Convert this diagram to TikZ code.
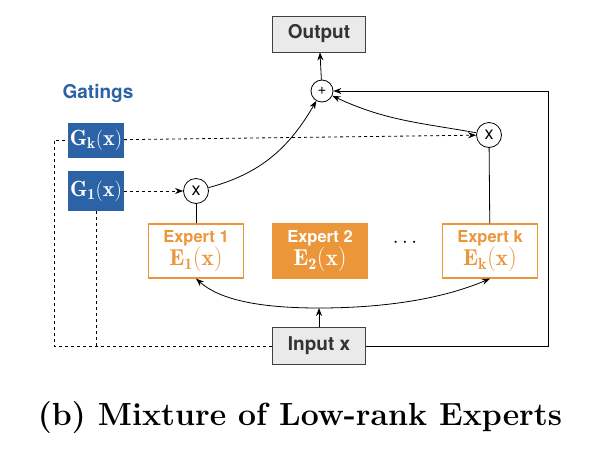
\documentclass[tikz,border=0pt]{standalone}
\usepackage{fontspec}
\setsansfont{TeX Gyre Heros}
\usetikzlibrary{arrows.meta}
\definecolor{gblue}{RGB}{44,98,166}
\definecolor{eor}{RGB}{236,150,58}
\definecolor{gbox}{RGB}{234,234,234}
\begin{document}
\begin{tikzpicture}[x=1pt,y=-1pt,
  gray box/.style={draw=black!75,fill=gbox,line width=0.8pt,minimum width=93pt,minimum height=36pt,font=\sffamily\bfseries\fontsize{19}{21}\selectfont,text=black!80},
  gate/.style={fill=gblue,minimum width=56pt,text=white,inner sep=1pt,font=\fontsize{22}{24}\selectfont},
  expert/.style={draw=eor,line width=1.2pt,fill=white,minimum width=95pt,minimum height=54pt,text=eor,align=center,inner sep=1pt},
  op/.style={circle,draw,line width=0.8pt,minimum size=25pt,inner sep=0pt,font=\sffamily\fontsize{18}{18}\selectfont},
  arr/.style={-{Stealth[length=8pt,width=6pt]},line width=0.8pt},
  dsh/.style={dashed,line width=0.8pt}]
\useasboundingbox (0,0) rectangle (600,451);
\node[gray box] (out) at (319,34) {Output};
\node[op,minimum size=22pt,font=\sffamily\fontsize{15}{15}\selectfont] (plus) at (322,91) {+};
\node[text=gblue,font=\sffamily\bfseries\fontsize{19}{21}\selectfont] (gat) at (98,93) {Gatings};
\node[gate,minimum height=35pt] (gk) at (96,140) {$\mathbf{G_k(x)}$};
\node[gate,minimum height=40pt] (g1) at (96,191) {$\mathbf{G_1(x)}$};
\node[op] (x1) at (196,191) {x};
\node[op] (xk) at (489,135) {x};
\node[expert] (e1) at (196,251) {{\sffamily\bfseries\fontsize{16.5}{18}\selectfont Expert 1}\\[0pt]{\fontsize{23}{24}\selectfont$\mathbf{E_1(x)}$}};
\node[expert,fill=eor,text=white,draw=eor] (e2) at (320,251) {{\sffamily\bfseries\fontsize{16.5}{18}\selectfont Expert 2}\\[0pt]{\fontsize{23}{24}\selectfont$\mathbf{E_2(x)}$}};
\node[font=\fontsize{20}{20}\selectfont] (dots) at (405,243) {$\cdots$};
\node[expert] (ek) at (490,251) {{\sffamily\bfseries\fontsize{16.5}{18}\selectfont Expert k}\\[0pt]{\fontsize{23}{24}\selectfont$\mathbf{E_k(x)}$}};
\node[gray box,minimum height=37pt] (in) at (319,346) {Input x};
\node[font=\bfseries\fontsize{32}{35}\selectfont] (title) at (300,418) {(b) Mixture of Low-rank Experts};
\coordinate (split) at (319,308);
\draw[arr] (plus) -- (out);
\draw[arr] (in) -- (split);
\draw[arr] (split) .. controls (260,308) and (220,300) .. (e1.south);
\draw[arr] (split) .. controls (380,308) and (440,300) .. (ek.south);
\draw[line width=0.8pt] (e1) -- (x1);
\draw[line width=0.8pt] (ek) -- (xk);
\draw[arr] (x1) to[out=15,in=-120] (plus);
\draw[arr] (xk) to[out=170,in=-25] (plus);
\draw[arr] (in.east) -| (548,91) -- (plus);
\draw[dsh,-{Stealth[length=8pt,width=6pt]}] (g1) -- (x1);
\draw[dsh,-{Stealth[length=8pt,width=6pt]}] (gk) -- (xk);
\draw[dsh] (in.west) -| (54,140) -- (gk.west);
\draw[dsh] (g1.south) -- (96,347);
\end{tikzpicture}
\end{document}
